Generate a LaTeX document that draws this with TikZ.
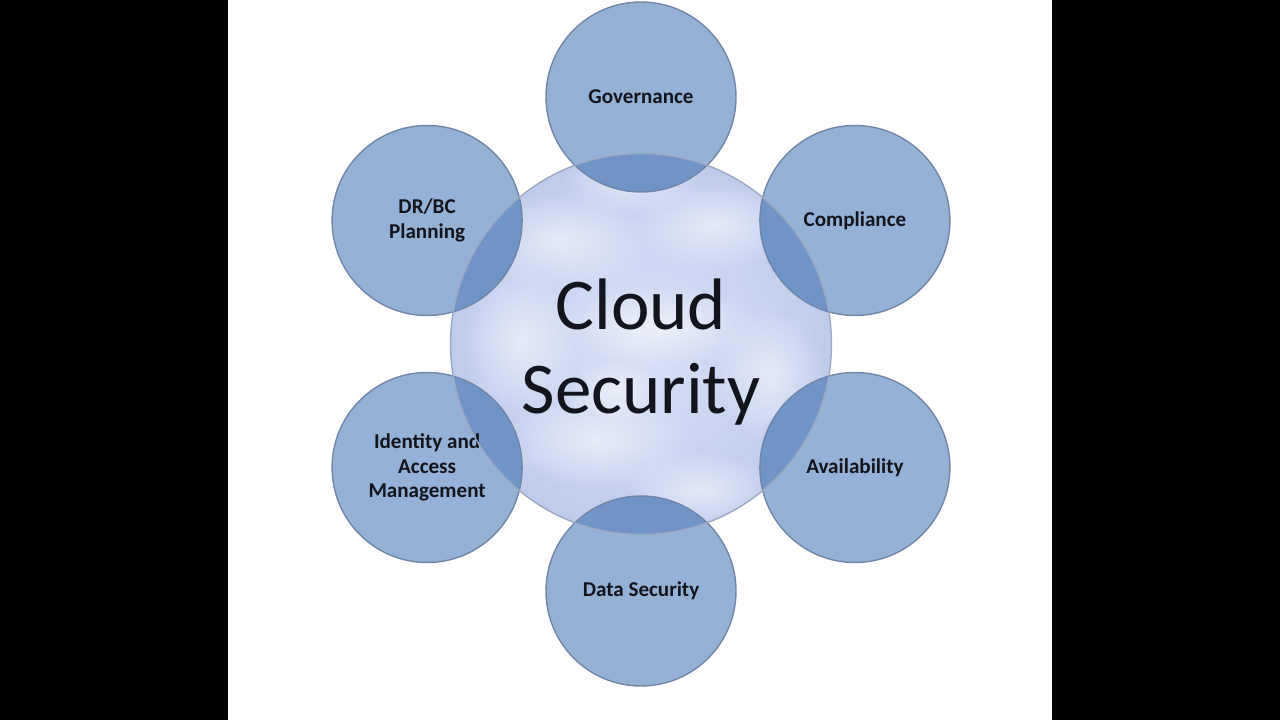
\documentclass[tikz,border=0pt]{standalone}
\usepackage{fontspec}
\setmainfont{Carlito}
\usetikzlibrary{positioning,fadings}
\definecolor{csring}{RGB}{112,134,168}
\definecolor{csouter}{RGB}{148,177,214}
\definecolor{csovl}{RGB}{112,148,198}
\definecolor{cscore}{RGB}{218,225,246}
\definecolor{csedge}{RGB}{190,203,236}
\definecolor{cstext}{RGB}{18,20,30}

\tikzfading[name=softblob, inner color=transparent!0, outer color=transparent!100]

\tikzset{
  core/.style={circle, minimum size=7.62cm, inner sep=0pt, inner color=cscore, outer color=csedge},
  topic/.style={circle, minimum size=3.8cm, inner sep=0pt, fill=csouter, draw=csring, line width=0.8pt,
    path picture={\fill[csovl] (cloud.center) circle (3.81cm);},
    align=center, text=cstext, font=\fontsize{12}{14}\selectfont\bfseries},
  title/.style={align=center, text=cstext, font=\fontsize{41.5}{48}\selectfont},
  rim/.style={draw=csring!70, line width=0.8pt},
  blob/.style={white, fill opacity=0.55, path fading=softblob}
}

\begin{document}
\begin{tikzpicture}
\useasboundingbox (0,0) rectangle (25.6,14.4);
% Side bars
\fill[black] (0,0) rectangle (4.56,14.4);
\fill[black] (21.04,0) rectangle (25.6,14.4);

% Centre circle with clouds
\node[core] (cloud) at (12.82,7.52) {};
\begin{scope}
\clip (cloud.center) circle (3.81cm);
\foreach \x/\y/\a/\b in {11.2/9.6/1.8/1.0, 14.3/9.9/1.7/0.9, 10.4/7.6/1.2/1.5, 13.2/7.9/2.0/0.8,
  15.4/6.9/1.1/1.4, 11.9/5.6/1.9/1.0, 14.0/4.6/1.6/0.8, 12.6/10.8/1.4/0.7, 12.3/6.6/1.0/0.6}
  \fill[blob] (\x,\y) ellipse (\a cm and \b cm);
\end{scope}

% Topic circles
\node[topic] (gov) at ([shift={(90:4.94)}]cloud.center) {Governance};
\node[topic] (comp) at ([shift={(30:4.94)}]cloud.center) {Compliance};
\node[topic] (avail) at ([shift={(-30:4.94)}]cloud.center) {Availability};
\node[topic] (data) at ([shift={(-90:4.94)}]cloud.center) {Data Security};
\node[topic] (iam) at ([shift={(210:4.94)}]cloud.center) {Identity and\\Access\\Management};
\node[topic] (drbc) at ([shift={(150:4.94)}]cloud.center) {DR/BC\\Planning};

% Outline of the centre
\draw[rim] (cloud.center) circle (3.81cm);

% Title
\node[title] (label) at ([yshift=-1.6mm]cloud.center) {Cloud\\Security};
\end{tikzpicture}
\end{document}
